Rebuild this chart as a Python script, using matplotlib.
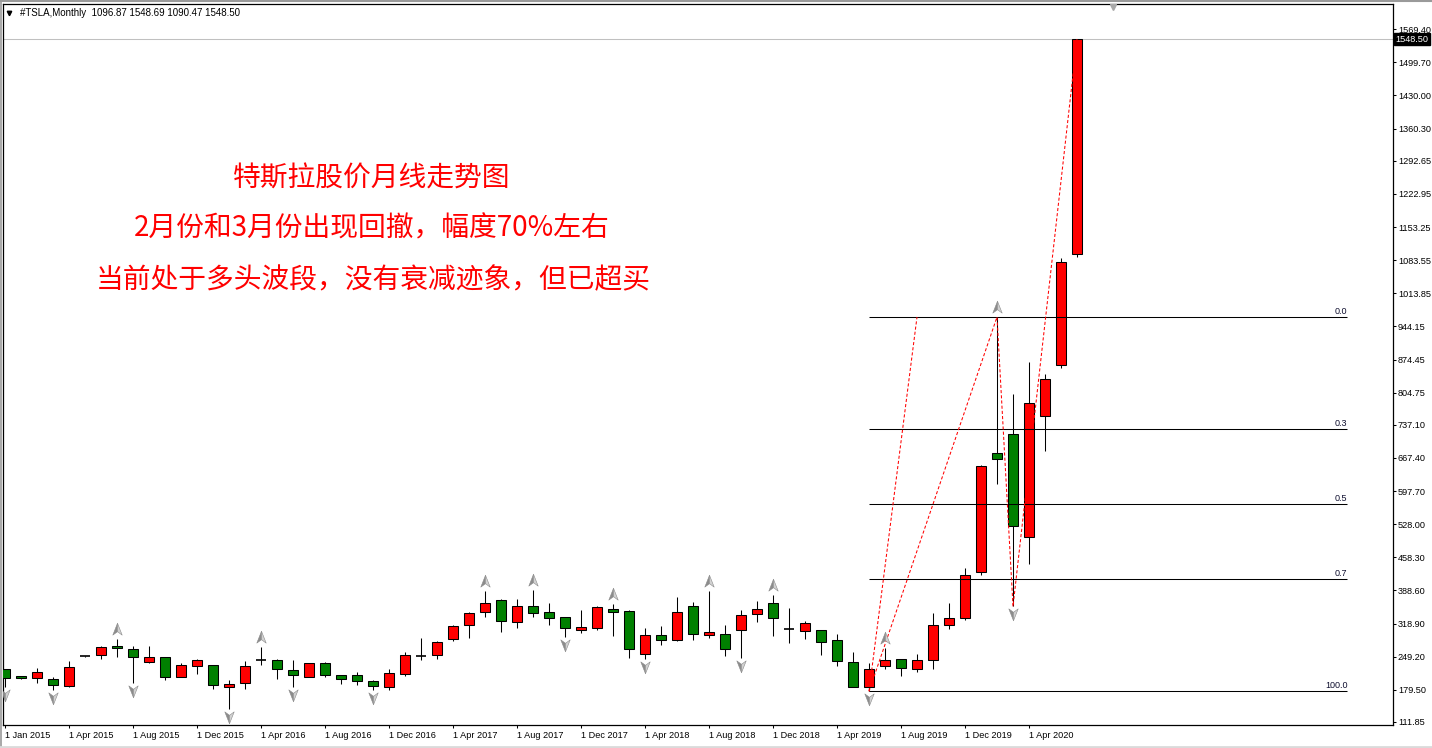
import matplotlib
matplotlib.use('Agg')
import matplotlib.pyplot as plt
import matplotlib.transforms as mtransforms
from matplotlib.path import Path
from matplotlib.lines import Line2D

# ---------------- data ----------------
opens = [222.7, 208.0, 203.8, 202.3, 188.2, 250.1, 252.2, 271.7, 264.8, 238.7,
         247.9, 207.1, 230.3, 231.1, 186.1, 194.5, 242.9, 242.3, 220.6, 207.1,
         235.3, 210.1, 210.1, 197.5, 186.1, 213.5, 251.3, 253.4, 285.8, 315.3,
         342.6, 367.9, 321.6, 355.2, 342.6, 332.1, 304.7, 310.2, 348.9, 344.7,
         254.3, 294.2, 283.7, 355.2, 294.2, 296.9, 304.7, 338.4, 361.6, 306.9,
         302.6, 304.7, 283.7, 237.4, 185.0, 230.3, 243.8, 222.7, 241.6, 315.3,
         330.0, 426.8, 677.2, 717.1, 501.7, 755.0, 862.3, 1096.87]
highs = [224.0, 208.5, 224.8, 206.5, 240.2, 251.5, 271.7, 285.8, 271.7, 271.1,
         249.2, 235.3, 244.4, 231.5, 200.2, 240.2, 269.0, 243.8, 242.3, 236.0,
         237.4, 210.5, 217.0, 199.6, 223.3, 258.5, 288.6, 282.3, 315.3, 343.3,
         387.4, 370.0, 370.6, 389.5, 362.2, 332.5, 347.5, 356.5, 359.5, 346.8,
         308.9, 313.8, 374.8, 364.3, 387.4, 315.9, 347.5, 366.4, 379.0, 351.0,
         324.3, 305.5, 297.0, 259.1, 235.3, 267.5, 244.2, 254.9, 341.1, 362.2,
         435.8, 651.9, 964.0, 801.3, 869.3, 843.4, 1087.4, 1548.69]
lows = [186.1, 203.0, 194.5, 179.8, 186.1, 249.0, 245.0, 249.2, 194.5, 236.6,
        200.2, 205.9, 212.8, 181.9, 139.8, 181.9, 232.4, 202.3, 185.5, 206.5,
        207.1, 192.4, 190.3, 178.5, 179.2, 209.2, 241.6, 243.8, 282.9, 289.2,
        333.4, 301.8, 310.2, 333.4, 315.3, 291.3, 299.7, 304.7, 293.4, 247.1,
        243.7, 273.2, 283.0, 284.3, 287.9, 251.3, 246.5, 322.8, 293.4, 278.7,
        287.1, 253.4, 230.3, 184.5, 176.5, 222.7, 209.2, 217.7, 224.0, 308.1,
        327.1, 421.7, 611.9, 355.0, 444.9, 682.6, 856.4, 1090.47]
closes = [203.8, 203.8, 216.4, 189.0, 226.9, 250.1, 269.0, 266.9, 249.2, 247.9,
          207.1, 231.1, 242.3, 190.3, 191.2, 229.0, 242.9, 222.7, 211.4, 235.3,
          211.4, 202.9, 197.5, 188.2, 214.3, 252.2, 251.3, 280.2, 313.2, 340.5,
          361.6, 323.7, 355.2, 340.5, 330.0, 309.0, 311.1, 353.1, 342.6, 264.8,
          294.2, 284.3, 342.6, 296.9, 301.2, 264.8, 336.3, 348.9, 331.3, 306.9,
          320.1, 279.5, 239.5, 185.0, 222.7, 241.6, 224.8, 241.6, 315.3, 330.0,
          420.5, 649.8, 664.6, 523.6, 782.4, 832.9, 1079.0, 1548.50]

x_tick_labels = ['1 Jan 2015', '1 Apr 2015', '1 Aug 2015', '1 Dec 2015',
                 '1 Apr 2016', '1 Aug 2016', '1 Dec 2016', '1 Apr 2017',
                 '1 Aug 2017', '1 Dec 2017', '1 Apr 2018', '1 Aug 2018',
                 '1 Dec 2018', '1 Apr 2019', '1 Aug 2019', '1 Dec 2019',
                 '1 Apr 2020']
y_tick_values = [1569.40, 1499.70, 1430.00, 1360.30, 1292.65, 1222.95, 1153.25,
                 1083.55, 1013.85, 944.15, 874.45, 804.75, 737.10, 667.40,
                 597.70, 528.00, 458.30, 388.60, 318.90, 249.20, 179.50, 111.85]

fractal_up_bars = [7, 16, 30, 33, 38, 44, 48, 55, 62]
fractal_down_bars = [0, 3, 8, 14, 18, 23, 35, 40, 46, 54, 63]
zigzag_bars = [54, 62, 63, 67]

fib_high = 964.0
fib_low = 176.5
fib_levels = [0.0, 0.3, 0.5, 0.7, 1.0]
fib_labels = ['0.0', '0.3', '0.5', '0.7', '100.0']
fib_anchor_bars = [54, 57]
fib_right_bar = 83.9

symbol = '#TSLA,Monthly'
annotations = ['特斯拉股价月线走势图',
               '2月份和3月份出现回撤，幅度70%左右',
               '当前处于多头波段，没有衰减迹象，但已超买']

# ---------------- figure ----------------
plt.rcParams['font.family'] = ['Liberation Sans', 'DejaVu Sans']
W, H, DPI = 1432, 748, 100
fig = plt.figure(figsize=(W / DPI, H / DPI), dpi=DPI)
fig.patch.set_facecolor('white')

L_px, R_px, T_px, B_px = 3, 1392.7, 4, 725.3
ax = fig.add_axes([L_px / W, 1 - B_px / H, (R_px - L_px) / W, (B_px - T_px) / H])
ax.set_xlim(-0.125, 86.73)
ax.set_ylim(104.9, 1622.5)
ax.set_facecolor('white')
for s in ax.spines.values():
    s.set_color('black')
    s.set_linewidth(0.9)

RED = '#FF0000'
GREEN = '#008000'
LW = 0.75
BODY_W = 0.6

# current price line
ax.axhline(closes[-1], color='#C0C0C0', lw=LW, zorder=1)

# candles
for i, (o, h, l, c) in enumerate(zip(opens, highs, lows, closes)):
    ax.vlines(i, l, h, color='black', lw=LW, zorder=2)
    if c > o:
        ax.bar(i, c - o, bottom=o, width=BODY_W, color=RED, edgecolor='black',
               linewidth=LW, zorder=3)
    elif c < o:
        ax.bar(i, o - c, bottom=c, width=BODY_W, color=GREEN, edgecolor='black',
               linewidth=LW, zorder=3)
    else:
        ax.hlines(o, i - BODY_W / 2, i + BODY_W / 2, color='black', lw=1.2, zorder=3)

# fibonacci levels
for lvl, lab in zip(fib_levels, fib_labels):
    price = fib_high - lvl * (fib_high - fib_low)
    ax.hlines(price, fib_anchor_bars[0], fib_right_bar, color='black', lw=LW, zorder=4)
    ax.annotate(lab, xy=(fib_right_bar, price), xytext=(0, 1), textcoords='offset points',
                ha='right', va='bottom', fontsize=6.5, color='#101030', zorder=5)
ax.plot(fib_anchor_bars, [fib_low, fib_high], color=RED, lw=LW,
        ls=(0, (3, 2)), zorder=4)

# zigzag
zz_prices = [lows[zigzag_bars[0]], highs[zigzag_bars[1]], lows[zigzag_bars[2]],
             highs[zigzag_bars[3]]]
ax.plot(zigzag_bars, zz_prices, color=RED, lw=LW, ls=(0, (3, 2)), zorder=4)

# fractal arrows (two-tone arrowheads)
up_left = Path([(0, 1), (0, -0.35), (-0.75, -0.9), (0, 1)],
               [Path.MOVETO, Path.LINETO, Path.LINETO, Path.CLOSEPOLY])
up_right = Path([(0, 1), (0.75, -0.9), (0, -0.35), (0, 1)],
                [Path.MOVETO, Path.LINETO, Path.LINETO, Path.CLOSEPOLY])
dn_left = Path([(0, -1), (0, 0.35), (-0.75, 0.9), (0, -1)],
               [Path.MOVETO, Path.LINETO, Path.LINETO, Path.CLOSEPOLY])
dn_right = Path([(0, -1), (0.75, 0.9), (0, 0.35), (0, -1)],
                [Path.MOVETO, Path.LINETO, Path.LINETO, Path.CLOSEPOLY])
tr_up = mtransforms.offset_copy(ax.transData, fig=fig, x=0, y=10, units='dots')
tr_dn = mtransforms.offset_copy(ax.transData, fig=fig, x=0, y=-8, units='dots')
up_y = [highs[i] for i in fractal_up_bars]
dn_y = [lows[i] for i in fractal_down_bars]
for mk, col in [(up_left, '#8C8C8C'), (up_right, '#D2D2D2')]:
    ax.plot(fractal_up_bars, up_y, ls='none', marker=mk, ms=9, mfc=col,
            mec='#8A8A8A', mew=0.4, transform=tr_up, zorder=5)
for mk, col in [(dn_left, '#8C8C8C'), (dn_right, '#D2D2D2')]:
    ax.plot(fractal_down_bars, dn_y, ls='none', marker=mk, ms=9, mfc=col,
            mec='#8A8A8A', mew=0.4, transform=tr_dn, zorder=5)

# chart shift marker at top
tr_top = mtransforms.offset_copy(ax.transAxes, fig=fig, x=0, y=-3, units='dots')
ax.plot([0.7988], [1.0], marker='v', ms=5, color='#A8A8A8', transform=tr_top,
        clip_on=False, zorder=6)

# axes ticks
ax.yaxis.tick_right()
ax.set_yticks(y_tick_values)
ax.set_yticklabels([f'{v:.2f}' for v in y_tick_values])
ax.tick_params(axis='y', direction='out', length=2.3, width=LW, pad=1.5,
               labelsize=6.6, colors='black')
ax.set_xticks(list(range(0, 4 * len(x_tick_labels), 4)))
ax.set_xticklabels(x_tick_labels)
ax.tick_params(axis='x', direction='out', length=2.3, width=LW, pad=2,
               labelsize=6.6, colors='black')
for t in ax.get_xticklabels():
    t.set_ha('left')

# current price label box
btr = mtransforms.blended_transform_factory(ax.transAxes, ax.transData)
ax.annotate(f'{closes[-1]:.2f}', xy=(1.0, closes[-1]), xycoords=btr,
            xytext=(2.2, 0), textcoords='offset points', ha='left', va='center',
            fontsize=6.6, color='white', annotation_clip=False,
            bbox=dict(boxstyle='square,pad=0.18', fc='black', ec='black'), zorder=7)

# header
ax.plot([0], [1], marker='v', ms=3.2, color='black',
        transform=mtransforms.offset_copy(ax.transAxes, fig=fig, x=6, y=-9, units='dots'),
        clip_on=False, zorder=6)
header = symbol + '  ' + ' '.join(f'{v:.2f}' for v in
                                  (opens[-1], highs[-1], lows[-1], closes[-1]))
ax.annotate(header, xy=(0, 1), xycoords='axes fraction', xytext=(17 * 0.72, -9 * 0.72),
            textcoords='offset points', ha='left', va='center', fontsize=7, color='black')

# Chinese annotations
cjk = ['Noto Sans CJK SC', 'DejaVu Sans']
for txt, (cx, cy) in zip(annotations, [(372, 178.5), (372, 228), (373, 280)]):
    fig.text(cx / W, 1 - cy / H, txt, ha='center', va='center', fontsize=20,
             color=RED, family=cjk, fontweight='light')

# window border
fig.add_artist(Line2D([0, 1], [1 - 0.8 / H, 1 - 0.8 / H], transform=fig.transFigure,
                      color='#9A9A9A', lw=1.5))
fig.add_artist(Line2D([0.5 / W, 0.5 / W], [0, 1], transform=fig.transFigure,
                      color='#9A9A9A', lw=1.2))
fig.add_artist(Line2D([0, 1], [1.5 / H, 1.5 / H], transform=fig.transFigure,
                      color='#DADADA', lw=2))

fig.savefig('out.png', dpi=DPI, facecolor='white')
